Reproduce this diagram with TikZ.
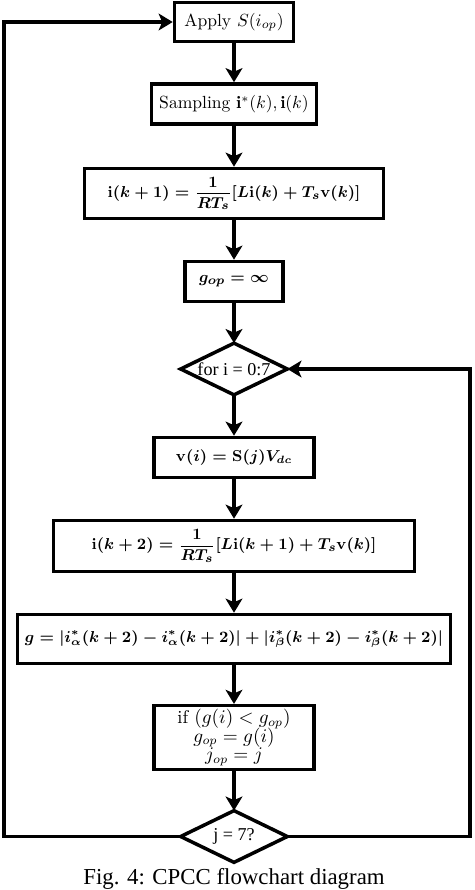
\documentclass[tikz,border=0pt]{standalone}
\usepackage{fontspec}
\usepackage{amsmath}
\usetikzlibrary{arrows.meta}
\newfontfamily\capfont{Liberation Serif}

\begin{document}
\begin{tikzpicture}[x=0.02cm, y=-0.02cm,
    blk/.style={draw, line width=2pt, inner sep=2pt, align=center},
    bold/.style={font=\fontsize{9.5}{11}\selectfont\boldmath},
    dec/.style={inner sep=0pt, minimum width=2.12cm, minimum height=1.02cm,
      font=\capfont\fontsize{10.3}{12}\selectfont},
    arr/.style={line width=1.8pt, -{Stealth[length=8pt, width=9.5pt, inset=2pt]}}]
  \useasboundingbox (0,0) rectangle (474,890);
  \clip (0,0) rectangle (474,890);
  % main column
  \node[blk, minimum width=2.38cm, minimum height=0.78cm] (apply) at (234,22) {Apply $S(i_{op})$};
  \node[blk, minimum width=3.3cm, minimum height=0.8cm] (sampl) at (234,104) {Sampling $\mathbf{i}^*(k),\mathbf{i}(k)$};
  \node[blk, bold, minimum width=5.98cm, minimum height=1cm] (ik1) at (234,193.5) {$\mathbf{i}(k+1) = \dfrac{1}{RT_s}[L\mathbf{i}(k) + T_s\mathbf{v}(k)]$};
  \node[blk, bold, minimum width=1.96cm, minimum height=0.8cm] (gop) at (234,281.5) {$g_{op} = \infty$};
  \node[dec] (fordec) at (234,369) {for i = 0:7};
  \node[blk, bold, font=\fontsize{9.2}{11}\selectfont\boldmath, minimum width=3.2cm, minimum height=0.8cm] (vi) at (234,457.5) {$\mathbf{v}(i) = \mathbf{S}(j)V_{dc}$};
  \node[blk, bold, minimum width=7.22cm, minimum height=1.02cm] (ik2) at (234,546) {$\mathbf{i}(k+2) = \dfrac{1}{RT_s}[L\mathbf{i}(k+1) + T_s\mathbf{v}(k)]$};
  \node[blk, bold, font=\fontsize{9.2}{11}\selectfont\boldmath, minimum width=8.66cm, minimum height=0.98cm] (gbox) at (234,639) {$g = |i^*_\alpha(k+2) - i^*_\alpha(k+2)| + |i^*_\beta(k+2) - i^*_\beta(k+2)|$};
  \node[blk, font=\fontsize{10.5}{12}\selectfont, minimum width=3.2cm, minimum height=1.2cm] (ifbox) at (234,737.5) {if $(g(i) < g_{op})$\\[-1.5pt] $g_{op} = g(i)$\\[-1.5pt] $j_{op} = j$};
  \node[dec] (jdec) at (234,836.5) {j = 7?};
  \node[font=\capfont\fontsize{13}{15}\selectfont, anchor=base] (cap) at (234,884) {Fig. 4: CPCC flowchart diagram};
  % the two decision diamonds
  \foreach \d in {fordec,jdec}
    \draw[line width=2pt] (\d.north) -- (\d.east) -- (\d.south) -- (\d.west) -- cycle;
  % arrows down
  \draw[arr] (apply) -- (sampl);
  \draw[arr] (sampl) -- (ik1);
  \draw[arr] (ik1) -- (gop);
  \draw[arr] (gop) -- (fordec);
  \draw[arr] (fordec) -- (vi);
  \draw[arr] (vi) -- (ik2);
  \draw[arr] (ik2) -- (gbox);
  \draw[arr] (gbox) -- (ifbox);
  \draw[arr] (ifbox) -- (jdec);
  % loops back
  \coordinate (lft) at (4,836.5);
  \coordinate (rgt) at (470,836.5);
  \draw[arr] (jdec.west) -- (lft) |- (apply.west);
  \draw[arr] (jdec.east) -- (rgt) |- (fordec.east);
\end{tikzpicture}
\end{document}
